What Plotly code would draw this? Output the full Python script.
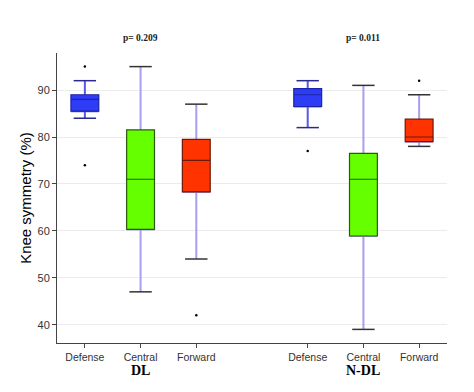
import plotly.graph_objects as go

# ---- data ----
positions = ["Defense", "Central", "Forward", "Defense", "Central", "Forward"]
groups = ["DL", "N-DL"]
p_values = ["p= 0.209", "p= 0.011"]
x_pos = [0, 1, 2, 4, 5, 6]
group_centers = [1, 5]
lower_whisker = [84.0, 47.0, 54.0, 82.0, 39.0, 78.0]
q1 = [85.5, 60.3, 68.3, 86.5, 58.9, 79.0]
median = [88.0, 71.0, 75.0, 89.0, 71.0, 80.0]
q3 = [89.0, 81.5, 79.5, 90.3, 76.5, 83.8]
upper_whisker = [92.0, 95.0, 87.0, 92.0, 91.0, 89.0]
outlier_x = [0, 0, 2, 4, 6]
outlier_y = [95.0, 74.0, 42.0, 77.0, 92.0]
y_ticks = [40, 50, 60, 70, 80, 90]

fill_colors = {"Defense": "#2f3cf5", "Central": "#66ff00", "Forward": "#ff3300"}
edge_colors = {"Defense": "#1c24a8", "Central": "#2a5a10", "Forward": "#6a1a08"}
whisk_colors = {"Defense": "#5a5ae0", "Central": "#a79ff0", "Forward": "#a79ff0"}
cap_colors = {"Defense": "#2a2a90", "Central": "#333333", "Forward": "#333333"}

fig = go.Figure()
for i, pos in enumerate(positions):
    x = x_pos[i]
    # whiskers
    fig.add_trace(go.Box(
        x=[x], q1=[q1[i]], median=[q1[i]], q3=[q1[i]],
        lowerfence=[lower_whisker[i]], upperfence=[upper_whisker[i]],
        width=0.5, whiskerwidth=0, line=dict(color=whisk_colors[pos], width=2),
        fillcolor="rgba(0,0,0,0)", boxpoints=False, showlegend=False, hoverinfo="skip"))
    # caps
    fig.add_trace(go.Scatter(
        x=[x, x], y=[lower_whisker[i], upper_whisker[i]], mode="markers",
        marker=dict(symbol="line-ew", size=16, line=dict(color=cap_colors[pos], width=1.5)),
        showlegend=False, hoverinfo="skip"))
    # box
    fig.add_trace(go.Box(
        x=[x], q1=[q1[i]], median=[median[i]], q3=[q3[i]],
        lowerfence=[q1[i]], upperfence=[q3[i]],
        width=0.5, whiskerwidth=0, line=dict(color=edge_colors[pos], width=1.2),
        fillcolor=fill_colors[pos], boxpoints=False, showlegend=False))

fig.add_trace(go.Scatter(x=outlier_x, y=outlier_y, mode="markers",
                         marker=dict(color="black", size=2.5), showlegend=False))

for g, pv, cx in zip(groups, p_values, group_centers):
    fig.add_annotation(x=cx, y=0, xref="x", yref="paper", yshift=-27, text="<b>%s</b>" % g,
                       showarrow=False, font=dict(family="Liberation Serif", size=14, color="black"),
                       yanchor="middle")
    fig.add_annotation(x=cx, y=1.0, xref="x", yref="paper", yshift=15, text="<b>%s</b>" % pv,
                       showarrow=False, font=dict(family="Liberation Serif", size=9.5, color="#222"),
                       yanchor="middle")

fig.update_layout(
    width=466, height=384, plot_bgcolor="white", paper_bgcolor="white",
    margin=dict(l=49, r=27, t=45, b=49), boxmode="overlay",
    font=dict(family="Liberation Sans, Arial", color="#333"),
    xaxis=dict(range=[-0.5, 6.5], tickvals=x_pos, ticktext=positions, showgrid=False,
               showline=True, linecolor="#444", linewidth=1, ticks="outside", ticklen=4,
               tickcolor="#444", tickfont=dict(size=10.5, color="#333"), zeroline=False),
    yaxis=dict(range=[36.1, 97.9], tickvals=y_ticks, showgrid=True, gridcolor="#ebebeb",
               showline=True, linecolor="#444", linewidth=1, ticks="outside", ticklen=4,
               tickcolor="#444", tickfont=dict(size=11, color="#333"), zeroline=False,
               title=dict(text="Knee symmetry (%)", font=dict(size=15, color="black"), standoff=2)),
)
fig.write_html("out.html")
